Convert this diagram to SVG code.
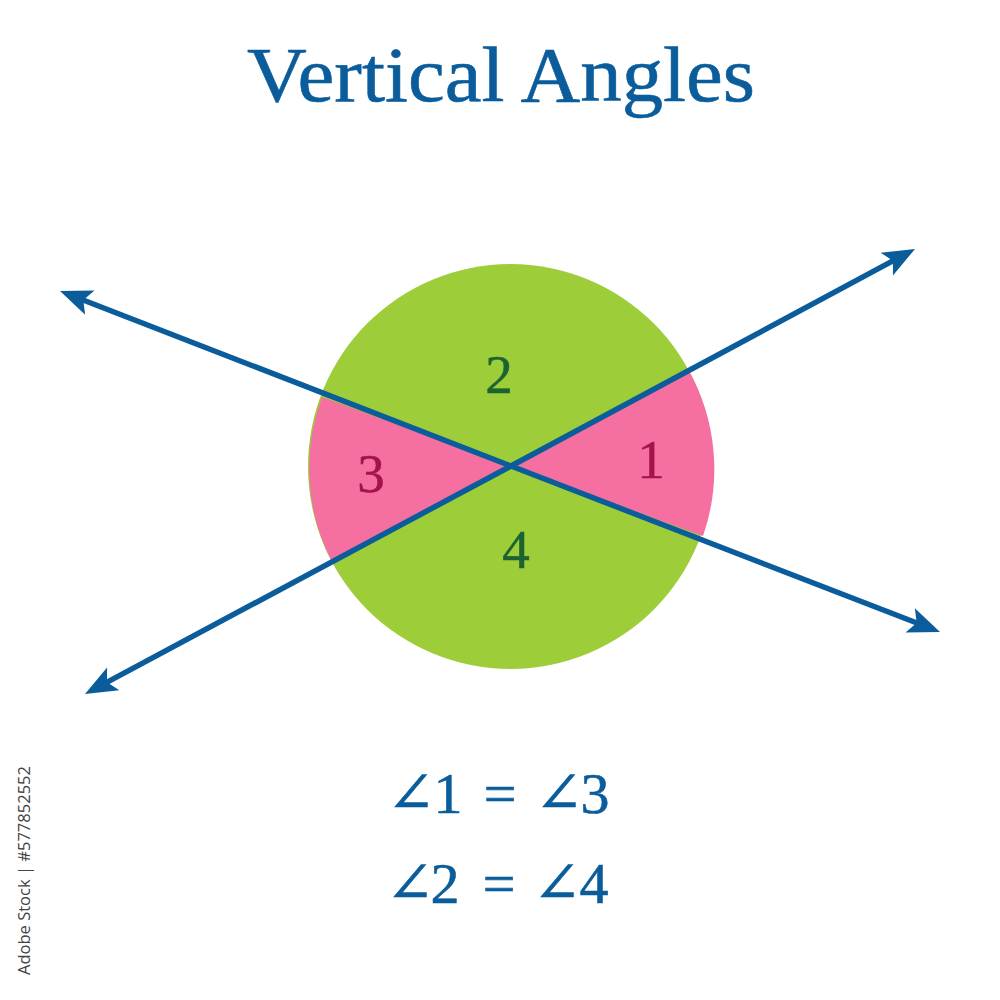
<svg xmlns="http://www.w3.org/2000/svg" width="1000" height="1000" viewBox="0 0 1000 1000">
<style>
text{font-family:"Liberation Serif","DejaVu Serif",serif}
.t{fill:#0b5c9b;stroke:#0b5c9b;stroke-width:.6;text-anchor:middle}
.g{fill:#1c6331;stroke:#1c6331;stroke-width:.5;font-size:55px;text-anchor:middle}
.r{fill:#a3154a;stroke:#a3154a;stroke-width:.5;font-size:55px;text-anchor:middle}
.l{stroke:#0b5c9b;stroke-width:5.5;fill:none;marker-end:url(#a)}
.s{font-family:"Open Sans","Liberation Sans",Arial,sans-serif;font-size:17px;fill:#444}
</style>
<defs><marker id="a" markerUnits="userSpaceOnUse" markerWidth="36" markerHeight="30" refX="10" refY="15" orient="auto"><path d="M0 2L32 15L0 28L7 15Z" fill="#0b5c9b"/></marker></defs>
<rect width="1000" height="1000" fill="#fff"/>
<text class="t" x="501" y="101" font-size="78" textLength="508" lengthAdjust="spacingAndGlyphs">Vertical Angles</text>
<g id="circle"><circle cx="510.5" cy="466.5" r="202.5" fill="#9ecd3a"/>
<path d="M511 466L322 397A203.500 203.500 0 0 0 331 560Z" fill="#f56fa1"/>
<path d="M511 466L688 369A203.500 203.500 0 0 1 703 536Z" fill="#f56fa1"/></g>
<g id="connectors">
<path class="l" d="M511 466L895.600 259.400"/><path class="l" d="M511 466L104.400 683.600"/>
<path class="l" d="M511 466L80.500 299"/><path class="l" d="M511 466L919.500 624"/>
</g>
<g id="n1"><text class="r" x="651" y="478">1</text></g>
<g id="n2"><text class="g" x="499" y="393">2</text></g>
<g id="n3"><text class="r" x="371" y="492">3</text></g>
<g id="n4"><text class="g" x="516" y="568">4</text></g>
<g id="eq"><text class="t" font-size="58" y="813" x="411 448 470 500 530 559 595">∠1 = ∠3</text>
<text class="t" font-size="58" y="903" x="410 445 468 499 528 557 594">∠2 = ∠4</text></g>
<text class="s" transform="translate(30 975) rotate(-90)" textLength="209" lengthAdjust="spacingAndGlyphs">Adobe Stock | #577852552</text>
</svg>
